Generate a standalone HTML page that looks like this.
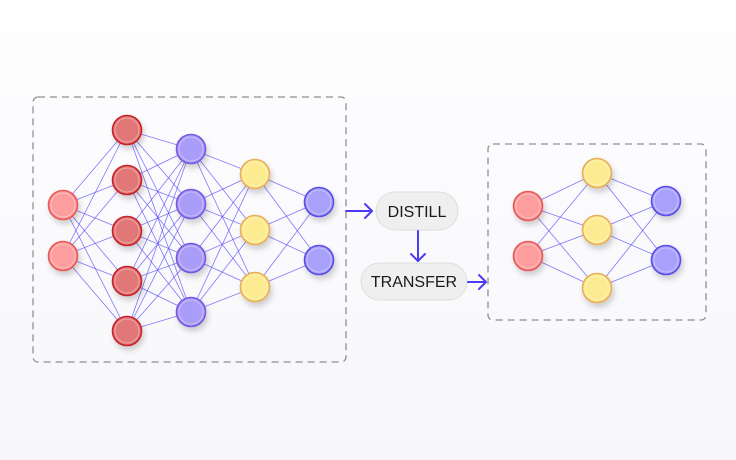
<!DOCTYPE html>
<html><head><meta charset="utf-8"><style>
html,body{margin:0;padding:0;}
body{width:736px;height:460px;overflow:hidden;background:linear-gradient(#fefeff,#f7f7fb);}
svg{display:block}
text{font-family:"Liberation Sans",sans-serif;}
</style></head><body>
<svg id="s" width="736" height="460" viewBox="0 0 736 460" xmlns="http://www.w3.org/2000/svg">
<defs>
<filter id="sh" x="-50%" y="-50%" width="220%" height="220%"><feDropShadow dx="2" dy="4" stdDeviation="3" flood-color="#000" flood-opacity="0.18"/></filter>
</defs>
<rect x="33" y="97" width="313" height="265" rx="5" fill="none" stroke="#8f8f8f" stroke-width="1.3" stroke-dasharray="7,5"/>
<rect x="488" y="144" width="218" height="176" rx="5" fill="none" stroke="#8f8f8f" stroke-width="1.3" stroke-dasharray="7,5"/>
<g id="lines" stroke="#5a4cf5" stroke-width="0.8" stroke-opacity="0.75"></g>
<g id="nodes"></g>
<rect x="376" y="192" width="82" height="38" rx="19" fill="#efefef" stroke="#dedede"/>
<text x="417" y="217" text-anchor="middle" font-size="16" fill="#1a1a1a">DISTILL</text>
<rect x="361" y="263" width="106" height="37" rx="18.5" fill="#efefef" stroke="#dedede"/>
<text x="414" y="287" text-anchor="middle" font-size="16" fill="#1a1a1a">TRANSFER</text>
<g stroke="#4c3cf5" stroke-width="2" fill="none" stroke-linecap="round" stroke-linejoin="round">
<line x1="346" y1="211" x2="372" y2="211"/><polyline points="365,204 372,211 365,218"/>
<line x1="418" y1="231" x2="418" y2="261"/><polyline points="411,254 418,261 425,254"/>
<line x1="468" y1="282" x2="486" y2="282"/><polyline points="479,275 486,282 479,289"/>
</g>
</svg>
<script>
var C={lr:["#fd9d9d","#e85858"],dr:["#e27777","#c7242c"],pu:["#aa9df9","#7a58de"],ye:["#fdeb92","#e8ae58"],bl:["#a8a1fb","#5a4de9"]};
var L=[[63,[205,256],"lr"],[127,[130,180,231,281,331],"dr"],[191,[149,204,258,312],"pu"],[255,[174,230,287],"ye"],[319,[202,260],"bl"]];
var R=[[528,[206,256],"lr"],[597,[173,230,288],"ye"],[666,[201,260],"bl"]];
var ns="http://www.w3.org/2000/svg",lg=document.getElementById("lines"),ng=document.getElementById("nodes");
function draw(Ls){
 for(var i=0;i<Ls.length-1;i++){var a=Ls[i],b=Ls[i+1];
  a[1].forEach(function(y1){b[1].forEach(function(y2){var l=document.createElementNS(ns,"line");
   l.setAttribute("x1",a[0]);l.setAttribute("y1",y1);l.setAttribute("x2",b[0]);l.setAttribute("y2",y2);lg.appendChild(l);});});}
 Ls.forEach(function(a){a[1].forEach(function(y){var c=document.createElementNS(ns,"circle");
  c.setAttribute("cx",a[0]);c.setAttribute("cy",y);c.setAttribute("r",14.5);c.setAttribute("fill",C[a[2]][0]);
  c.setAttribute("stroke",C[a[2]][1]);c.setAttribute("stroke-width",1.6);c.setAttribute("filter","url(#sh)");ng.appendChild(c);
  var h=document.createElementNS(ns,"circle");h.setAttribute("cx",a[0]);h.setAttribute("cy",y);h.setAttribute("r",12);
  h.setAttribute("fill","none");h.setAttribute("stroke","#fff");h.setAttribute("stroke-opacity","0.35");h.setAttribute("stroke-width","1");ng.appendChild(h);});});
}
draw(L);draw(R);
</script>
</body></html>
